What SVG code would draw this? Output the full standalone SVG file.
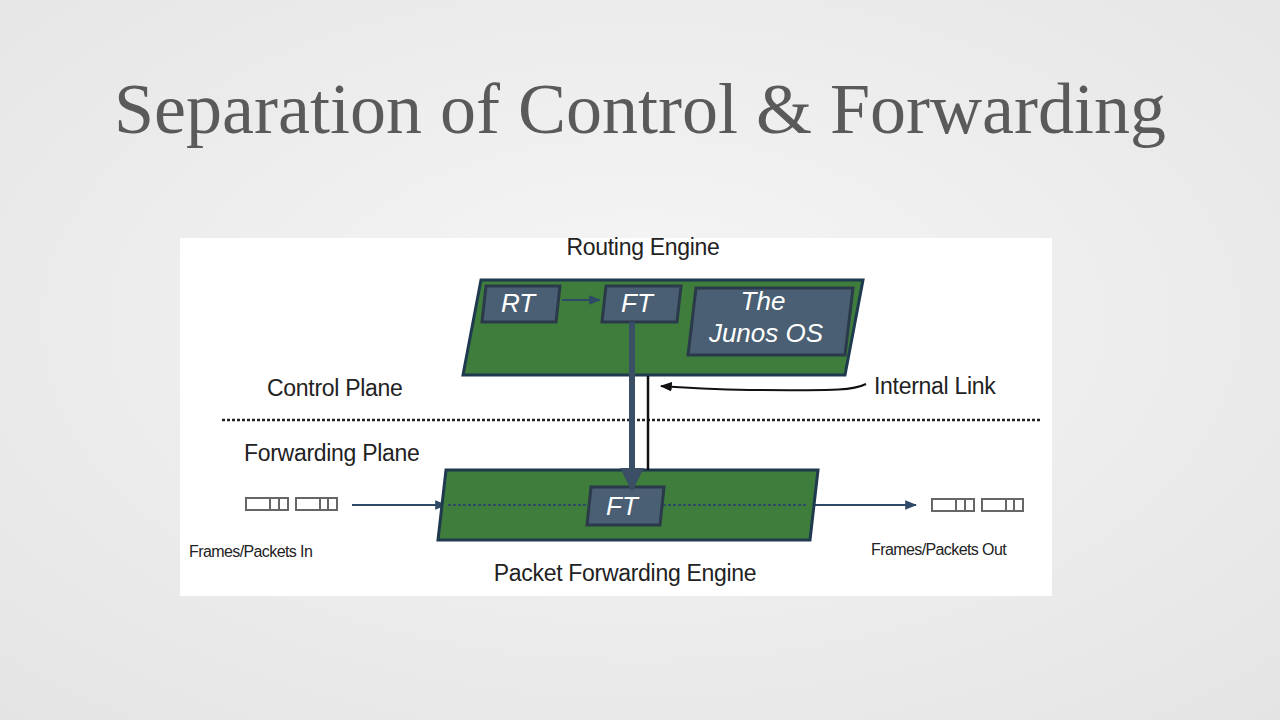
<svg xmlns="http://www.w3.org/2000/svg" width="1280" height="720" viewBox="0 0 1280 720">
<defs>
<radialGradient id="bg" cx="50%" cy="45%" r="75%"><stop offset="0" stop-color="#f6f6f6"/><stop offset="1" stop-color="#e4e4e4"/></radialGradient>
<marker id="ah" viewBox="0 0 10 10" refX="9" refY="5" markerWidth="6" markerHeight="6" orient="auto"><path d="M0,1 L10,5 L0,9 z" fill="#2f4a66"/></marker>
<marker id="bh" viewBox="0 0 10 10" refX="8" refY="5" markerWidth="4" markerHeight="4" orient="auto"><path d="M0,0 L10,5 L0,10 z" fill="#3a4f66"/></marker>
<marker id="kh" viewBox="0 0 10 10" refX="9" refY="5" markerWidth="6" markerHeight="6" orient="auto"><path d="M0,1 L10,5 L0,9 z" fill="#111"/></marker>
<style>
.green{fill:#3f7d3c;stroke:#1f3a4f;stroke-width:3}
.box{fill:#4a5f73;stroke:#2b3a4a;stroke-width:3}
.bt{font-family:"Liberation Sans",Arial,sans-serif;font-style:italic;fill:#fff;font-size:26px;text-anchor:middle}
.lbl{font-family:"Liberation Sans",Arial,sans-serif;fill:#222;font-size:23px;letter-spacing:-0.3px}
.sm{font-family:"Liberation Sans",Arial,sans-serif;fill:#222;font-size:16px;letter-spacing:-0.6px}
.pk{fill:none;stroke:#666;stroke-width:2}
</style>
</defs>
<rect width="1280" height="720" fill="url(#bg)"/>
<text x="640" y="133" font-family="Liberation Serif,'Times New Roman',serif" font-size="72" fill="#5a5a5a" text-anchor="middle">Separation of Control &amp; Forwarding</text>
<rect x="180" y="238" width="872" height="358" fill="#fff"/>
<g id="connectors">
<line x1="222" y1="420" x2="1042" y2="420" stroke="#222" stroke-width="2.5" stroke-dasharray="3,2"/>
<line x1="352" y1="505" x2="446" y2="505" stroke="#2f4a66" stroke-width="2" marker-end="url(#ah)"/>
<line x1="808" y1="505" x2="916" y2="505" stroke="#2f4a66" stroke-width="2" marker-end="url(#ah)"/>
</g>
<g id="routing-engine">
<polygon class="green" points="481,280 863,280 845,375 463,375"/>
<text class="lbl" x="643" y="255" text-anchor="middle">Routing Engine</text>
</g>
<g id="pfe">
<polygon class="green" points="446,470 818,470 810,540 438,540"/>
<line x1="448" y1="505" x2="808" y2="505" stroke="#2f4a66" stroke-width="2" stroke-dasharray="3,2"/>
<text class="lbl" x="625" y="581" text-anchor="middle">Packet Forwarding Engine</text>
</g>
<g id="rt"><polygon class="box" points="486,286 560,286 556,322 482,322"/><text class="bt" x="518" y="312">RT</text></g>
<g id="ft-top"><polygon class="box" points="606,286 681,286 677,322 602,322"/><text class="bt" x="637" y="312">FT</text></g>
<g id="junos"><polygon class="box" points="696,288 853,288 845,355 688,355"/><text class="bt" x="763" y="310">The</text><text class="bt" x="766" y="342">Junos OS</text></g>
<g id="ft-bottom"><polygon class="box" points="591,487 664,487 660,525 587,525"/><text class="bt" x="622" y="515">FT</text></g>
<g id="connectors2">
<line x1="562" y1="300" x2="600" y2="300" stroke="#2f4a66" stroke-width="2" marker-end="url(#ah)"/>
<line x1="632" y1="322" x2="632" y2="487" stroke="#3a4f66" stroke-width="6" marker-end="url(#bh)"/>
<line x1="648" y1="376" x2="648" y2="470" stroke="#111" stroke-width="2.5"/>
<path d="M866,384 C850,392 820,390 760,390 C720,390 690,388 661,386" fill="none" stroke="#111" stroke-width="2" marker-end="url(#kh)"/>
</g>
<text class="lbl" x="267" y="396">Control Plane</text>
<text class="lbl" x="874" y="394">Internal Link</text>
<text class="lbl" x="244" y="461">Forwarding Plane</text>
<g id="packets">
<rect class="pk" x="246" y="498" width="42" height="12"/><line class="pk" x1="270" y1="498" x2="270" y2="510"/><line class="pk" x1="279" y1="498" x2="279" y2="510"/>
<rect class="pk" x="296" y="498" width="41" height="12"/><line class="pk" x1="320" y1="498" x2="320" y2="510"/><line class="pk" x1="328" y1="498" x2="328" y2="510"/>
<rect class="pk" x="932" y="499" width="42" height="12"/><line class="pk" x1="956" y1="499" x2="956" y2="511"/><line class="pk" x1="965" y1="499" x2="965" y2="511"/>
<rect class="pk" x="982" y="499" width="41" height="12"/><line class="pk" x1="1006" y1="499" x2="1006" y2="511"/><line class="pk" x1="1014" y1="499" x2="1014" y2="511"/>
</g>
<text class="sm" x="189" y="557">Frames/Packets In</text>
<text class="sm" x="871" y="555">Frames/Packets Out</text>
</svg>
